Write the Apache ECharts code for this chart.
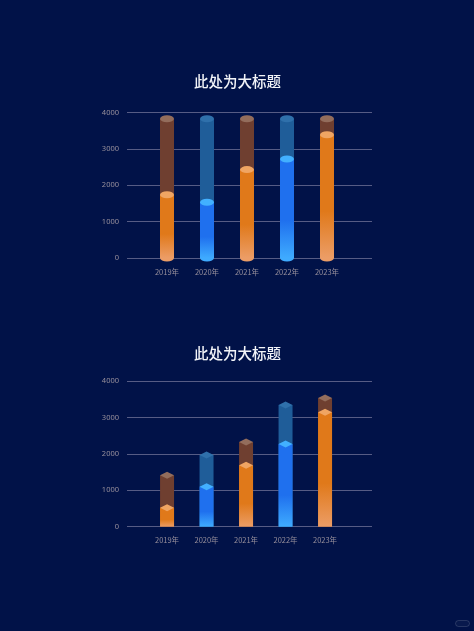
<!DOCTYPE html>
<html><head><meta charset="utf-8">
<style>html,body{margin:0;padding:0;background:#011248}#c{width:474px;height:631px}</style>
<script src="https://cdn.jsdelivr.net/npm/echarts@6/dist/echarts.min.js"></script>
</head><body><div id="c"></div>
<script>
const categories = ['2019年','2020年','2021年','2022年','2023年'];
const titleText = '此处为大标题';
const chart1Back = [3830,3830,3830,3830,3830];
const chart1Front = [1740,1530,2430,2720,3390];
const chart2Back = [1415,1970,2330,3350,3540];
const chart2Front = [520,1100,1690,2275,3150];

const O = {back:'#6f3f30', backCap:'#936d5c', mid:'#e0791a', light:'#ec9d66', cap:'#f0a563'};
const B = {back:'#1f5d99', backCap:'#2f70ab', mid:'#1f70ee', light:'#3fabff', cap:'#42b0ff'};
const pal = i => i % 2 ? B : O;
const grad = p => ({type:'linear',x:0,y:0,x2:0,y2:1,colorStops:[
  {offset:0,color:p.mid},{offset:0.62,color:p.mid},{offset:1,color:p.light}]});

const chart = echarts.init(document.getElementById('c'), null, {renderer:'canvas'});
const layouts = [
  {top:112.5, height:145.5, barLeft:147, barWidth:200, back:chart1Back, front:chart1Front, symbol:'circle', bottomCap:true},
  {top:381.3, height:145.4, barLeft:147.3, barWidth:197.5, back:chart2Back, front:chart2Front, symbol:'diamond', bottomCap:false}
];
const grid=[], xAxis=[], yAxis=[], series=[];
const labelColor = '#978f9b';
layouts.forEach((L,k)=>{
  const g0 = grid.length, g1 = g0+1;
  grid.push({left:127,width:245,top:L.top,height:L.height});
  grid.push({left:L.barLeft,width:L.barWidth,top:L.top,height:L.height});
  xAxis.push({gridIndex:g0,type:'category',show:false,data:categories});
  xAxis.push({gridIndex:g1,type:'category',data:categories,
    axisLine:{show:false},axisTick:{show:false},
    axisLabel:{color:labelColor,fontSize:7.5,margin:10,fontFamily:'"Noto Sans CJK SC","Noto Sans",sans-serif'}});
  yAxis.push({gridIndex:g0,type:'value',min:0,max:4000,interval:1000,
    axisLine:{show:false},axisTick:{show:false},
    axisLabel:{color:labelColor,fontSize:7.5,margin:8,formatter:v=>String(v),fontFamily:'"Noto Sans",sans-serif'},
    splitLine:{lineStyle:{color:'#565c85',width:1}}});
  yAxis.push({gridIndex:g1,type:'value',min:0,max:4000,interval:1000,show:false,splitLine:{show:false}});
  const base = {xAxisIndex:g1,yAxisIndex:g1,silent:true,animation:false};
  const W = 14, H = 7;
  series.push({...base,type:'bar',barWidth:W,barGap:'-100%',z:2,
    data:L.back.map((v,i)=>({value:v,itemStyle:{color:pal(i).back}}))});
  series.push({...base,type:'bar',barWidth:W,barGap:'-100%',z:4,
    data:L.front.map((v,i)=>({value:v,itemStyle:{color:grad(pal(i))}}))});
  series.push({...base,type:'pictorialBar',symbol:L.symbol,symbolSize:[W,H],symbolPosition:'end',symbolOffset:[0,'-50%'],z:3,
    data:L.back.map((v,i)=>({value:v,itemStyle:{color:pal(i).backCap}}))});
  series.push({...base,type:'pictorialBar',symbol:L.symbol,symbolSize:[W,H],symbolPosition:'end',symbolOffset:[0,'-50%'],z:5,
    data:L.front.map((v,i)=>({value:v,itemStyle:{color:pal(i).cap}}))});
  if(L.bottomCap){
    series.push({...base,type:'pictorialBar',symbol:'circle',symbolSize:[W,H],symbolPosition:'start',symbolOffset:[0,'50%'],z:3,
      data:L.front.map((v,i)=>({value:v,itemStyle:{color:pal(i).light}}))});
  }
});
const titleStyle = {color:'#f2f4f8',fontSize:14.5,fontWeight:500,fontFamily:'"Noto Sans CJK SC",sans-serif'};
chart.setOption({
  backgroundColor:'#011248',
  animation:false,
  title:[
    {text:titleText,left:232.5,top:69,textAlign:'center',textStyle:titleStyle},
    {text:titleText,left:232.5,top:341,textAlign:'center',textStyle:titleStyle}
  ],
  graphic:[{type:'rect',left:455,top:620,shape:{width:14,height:6,r:3},style:{fill:'rgba(255,255,255,0.03)',stroke:'rgba(255,255,255,0.14)',lineWidth:1},silent:true}],
  grid,xAxis,yAxis,series
});
</script></body></html>
